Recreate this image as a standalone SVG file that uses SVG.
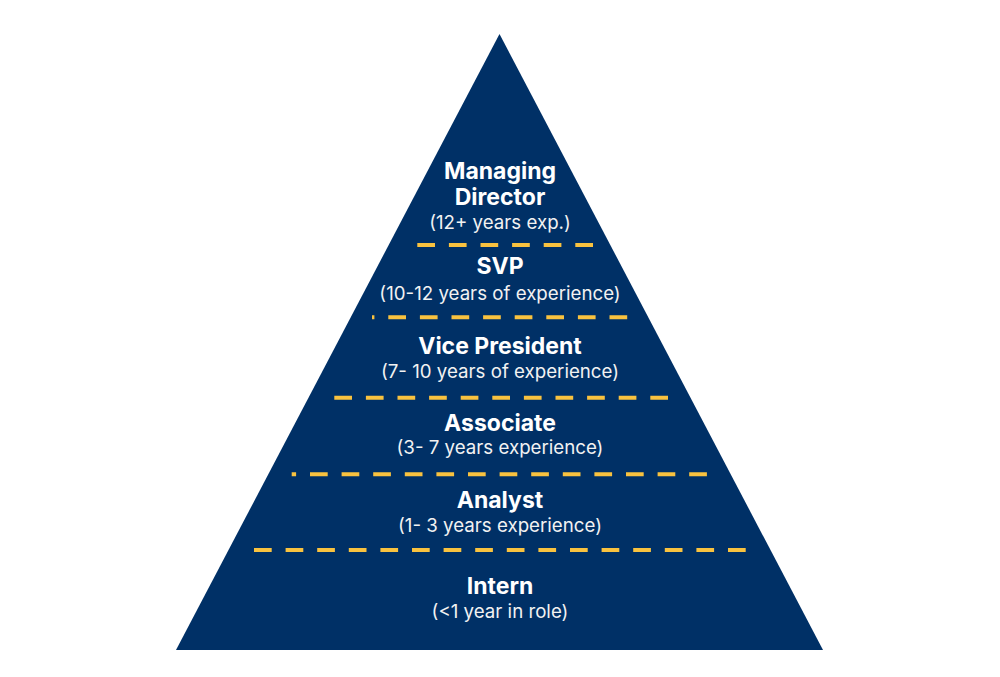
<svg xmlns="http://www.w3.org/2000/svg" width="1000" height="677" viewBox="0 0 1000 677">
  <style>
    .bg { fill: #ffffff; }
    .pyr { fill: #003066; }
    .div { stroke: #F9C23F; stroke-width: 4; stroke-dasharray: 17.7 13.9; fill: none; }
    .t { font-family: Inter, "Noto Sans", "Liberation Sans", sans-serif; font-weight: 700; font-size: 23px; fill: #ffffff; text-anchor: middle; }
    .s { font-family: Inter, "Noto Sans", "Liberation Sans", sans-serif; font-weight: 400; font-size: 18.7px; fill: #f2f2f2; text-anchor: middle; }
  </style>
  <rect class="bg" x="0" y="0" width="1000" height="677"/>
  <g id="pyramid">
    <polygon class="pyr" points="499.5,34 176,650 823,650"/>
  </g>
  <g id="connectors">
    <line class="div" x1="417.3" y1="245" x2="593.3" y2="245"/>
    <line class="div" x1="372" y1="317.3" x2="627.2" y2="317.3" stroke-dashoffset="15.3"/>
    <line class="div" x1="334.3" y1="397.7" x2="668.3" y2="397.7"/>
    <line class="div" x1="291.7" y1="474.3" x2="707" y2="474.3" stroke-dashoffset="13.3"/>
    <line class="div" x1="254" y1="550" x2="745.7" y2="550"/>
  </g>
  <g id="managing-director">
    <text class="t" x="500" y="178.5">Managing</text>
    <text class="t" x="500" y="204.5">Director</text>
    <text class="s" x="500" y="229">(12+ years exp.)</text>
  </g>
  <g id="svp">
    <text class="t" x="500" y="274">SVP</text>
    <text class="s" x="500" y="300">(10-12 years of experience)</text>
  </g>
  <g id="vice-president">
    <text class="t" x="500" y="354.3">Vice President</text>
    <text class="s" x="500" y="377.7">(7- 10 years of experience)</text>
  </g>
  <g id="associate">
    <text class="t" x="500" y="430.7">Associate</text>
    <text class="s" x="500" y="454.3">(3- 7 years experience)</text>
  </g>
  <g id="analyst">
    <text class="t" x="500" y="507.7">Analyst</text>
    <text class="s" x="500" y="531.7">(1- 3 years experience)</text>
  </g>
  <g id="intern">
    <text class="t" x="500" y="594.3">Intern</text>
    <text class="s" x="500" y="618.3">(&lt;1 year in role)</text>
  </g>
</svg>
